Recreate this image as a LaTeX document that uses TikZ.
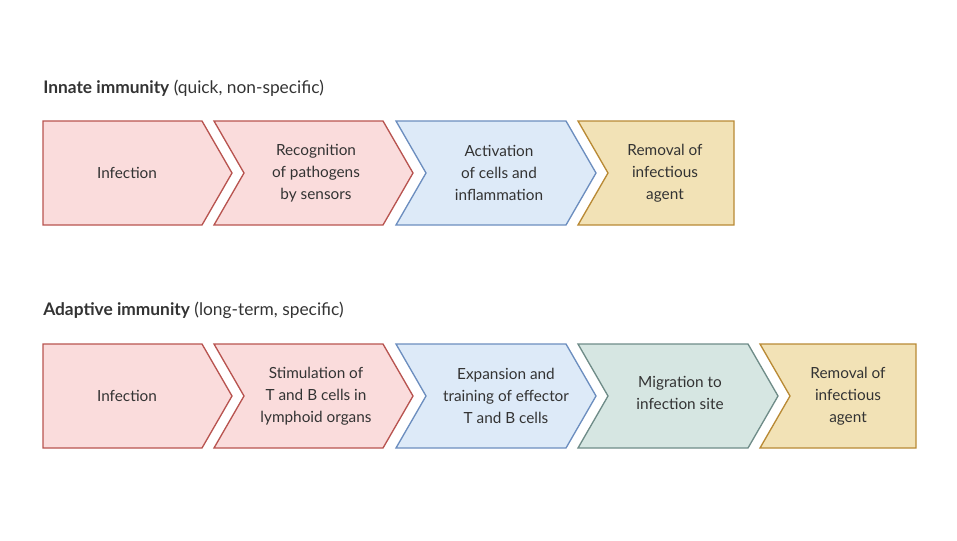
\documentclass[tikz,border=0pt]{standalone}
\usepackage{fontspec}
\setmainfont{Lato}
\usetikzlibrary{positioning}

\definecolor{redfill}{HTML}{FADCDC}
\definecolor{reddraw}{HTML}{B85450}
\definecolor{bluefill}{HTML}{DDEAF8}
\definecolor{bluedraw}{HTML}{6C8EBF}
\definecolor{greenfill}{HTML}{D6E6E2}
\definecolor{greendraw}{HTML}{6F8C88}
\definecolor{yellowfill}{HTML}{F2E2B6}
\definecolor{yellowdraw}{HTML}{B98A35}
\definecolor{txt}{HTML}{333333}

% chevron: #1 style, #2 left, #3 right, #4 top, #5 notch (1/0), #6 point (1/0)
\newcommand{\chev}[6]{%
  \draw[#1] (#2,#4) -- ({#3-30*#6},#4) -- (#3,#4+52) -- ({#3-30*#6},#4+104)
    -- (#2,#4+104) -- ({#2+30*#5},#4+52) -- cycle;}

\begin{document}
\begin{tikzpicture}[
    x=0.75pt, y=-0.75pt,
    red/.style={fill=redfill, draw=reddraw, line width=1pt},
    blue/.style={fill=bluefill, draw=bluedraw, line width=1pt},
    green/.style={fill=greenfill, draw=greendraw, line width=1pt},
    yellow/.style={fill=yellowfill, draw=yellowdraw, line width=1pt},
    lbl/.style={align=center, text=txt, font=\fontsize{11.5}{16.5}\selectfont},
    head/.style={anchor=west, text=txt, font=\fontsize{13}{16}\selectfont, inner sep=0pt}
]
    \useasboundingbox (0,0) rectangle (957,540);

    % Innate row
    \node[head] (innate) at (43,88) {\textbf{Innate immunity} (quick, non-specific)};
    \chev{red}{43}{232}{121}{0}{1}
    \chev{red}{214}{413}{121}{1}{1}
    \chev{blue}{396}{596}{121}{1}{1}
    \chev{yellow}{578}{734}{121}{1}{0}
    \node[lbl] (i1) at (127,173) {Infection};
    \node[lbl] (i2) at (316,173) {Recognition\\of pathogens\\by sensors};
    \node[lbl] (i3) at (499,173) {Activation\\of cells and\\inflammation};
    \node[lbl] (i4) at (665,173) {Removal of\\infectious\\agent};

    % Adaptive row
    \node[head] (adaptive) at (43,310) {\textbf{Adaptive immunity} (long-term, specific)};
    \chev{red}{43}{232}{344}{0}{1}
    \chev{red}{214}{413}{344}{1}{1}
    \chev{blue}{396}{596}{344}{1}{1}
    \chev{green}{578}{778}{344}{1}{1}
    \chev{yellow}{760}{916}{344}{1}{0}
    \node[lbl] (a1) at (127,396) {Infection};
    \node[lbl] (a2) at (316,396) {Stimulation of\\T and B cells in\\lymphoid organs};
    \node[lbl] (a3) at (506,396) {Expansion and\\training of effector\\T and B cells};
    \node[lbl] (a4) at (680,393) {Migration to\\infection site};
    \node[lbl] (a5) at (848,396) {Removal of\\infectious\\agent};
\end{tikzpicture}
\end{document}
